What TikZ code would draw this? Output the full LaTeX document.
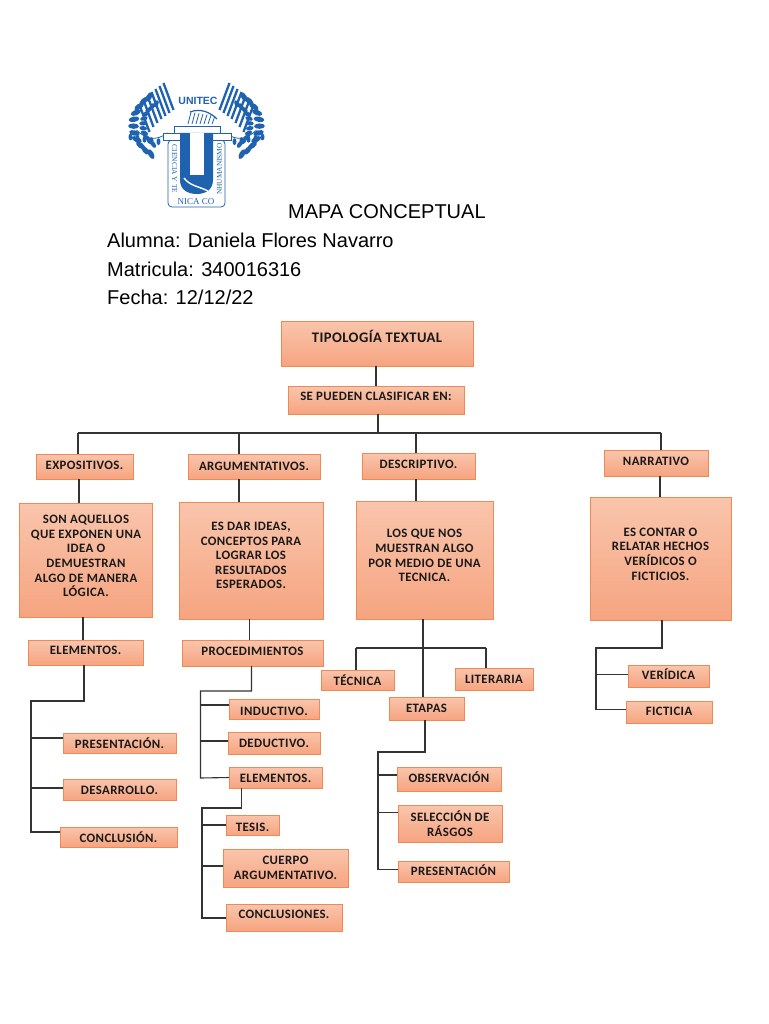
\documentclass[tikz,border=0pt]{standalone}
\usepackage{fontspec}
\setmainfont{Liberation Sans}
\newfontfamily\boxfont[LetterSpace=3]{Carlito}
\newfontfamily\logofont{Liberation Serif}
\usetikzlibrary{calc}
\definecolor{boxtop}{HTML}{F9C5AC}
\definecolor{boxbot}{HTML}{F6A480}
\definecolor{boxline}{HTML}{EE8A55}
\definecolor{logoblue}{HTML}{1F62B0}
\newcommand{\pad}[1]{\\[\dimexpr#1-14.6pt\relax]\mbox{}}
\begin{document}
\begin{tikzpicture}[
    x=1pt, y=-1pt,
    box/.style={draw=boxline, line width=1pt, top color=boxtop, bottom color=boxbot, align=center, inner sep=0pt, outer sep=0pt, text=black!90,
        font=\boxfont\bfseries\fontsize{12.8}{14.6}\selectfont},
    base/.style={text height=10pt+#1, text depth=10pt-#1},
    conn/.style={draw=black!80, line width=1.1pt},
    head/.style={anchor=west, inner sep=0pt, font=\fontsize{20}{22}\selectfont},
    feather/.style={fill=logoblue},
    logotxt/.style={inner sep=0pt, text=logoblue, font=\logofont\fontsize{7.4}{8}\selectfont}
]
\useasboundingbox (0,0) rectangle (768,1024);

% logo
\foreach \s in {1,-1} {
\begin{scope}[shift={(196.5,0)}, xscale=\s]
    \foreach \a in {118,130,...,238} {
        \fill[feather, shift={(-30,125)}] (\a:33) ellipse [x radius=2.7, y radius=5.4, rotate=\a-90];
        \fill[feather, shift={(-30,125)}] (\a+6:23.5) ellipse [x radius=2.2, y radius=3.8, rotate=\a-84];
    }
    \foreach \a in {-38,-45,...,-66} {
        \fill[feather] (\a,148+\a/6) ellipse [x radius=2, y radius=3.4];
    }
    \foreach \a/\b in {-33/83, -37/86, -41/89, -45/92, -49/96, -53/100, -57/105} {
        \draw[logoblue, line width=2.3pt] (\a+10,\b+27) -- (\a,\b);
    }
    \draw[logoblue, line width=.8pt] (-29,133) .. controls (-40,141) and (-50,140) .. (-60,130);
\end{scope}
}
\node[inner sep=0pt, text=logoblue, font=\bfseries\fontsize{10.5}{11}\selectfont] (unitec) at (198,101) {UNITEC};
\foreach \d in {0,4,...,24} {
    \draw[logoblue, line width=.8pt] (188+\d,124) -- (191+\d,112+\d/6);
}
\draw[logoblue, line width=1.2pt] (190,112) .. controls (200,108) and (210,112) .. (217,119);
\draw[logoblue, line width=.8pt, fill=white, rounded corners=4pt] (168,140) -- (225,140) -- (225,207) -- (168,207) -- cycle;
\draw[logoblue, line width=.8pt, fill=white] (163.5,133) rectangle (231.5,140);
\draw[logoblue, line width=.8pt, fill=white] (174,126) rectangle (220,133);
\fill[logoblue] (180,133) rectangle (213,180) .. controls (213,190) and (205,194) .. (197,194) .. controls (188,194) and (180,190) .. (180,180) -- cycle;
\fill[white] (190,133) rectangle (203.5,175);
\draw[white, line width=1.4pt] (184,178) .. controls (190,186) and (198,186) .. (208,191);
\node[logotxt, rotate=-90] (ciencia) at (174.5,169) {CIENCIA Y TE};
\node[logotxt, font=\logofont\fontsize{9}{10}\selectfont] (nica) at (196,201.5) {NICA CO};
\node[logotxt, rotate=90] (nhuman) at (219.5,169) {NHUMANISMO};

% encabezado
\node[head] (mapa) at (288,212) {MAPA CONCEPTUAL};
\node[head] (alumna) at (107,240) {Alumna: Daniela Flores Navarro};
\node[head] (matricula) at (107,269) {Matricula: 340016316};
\node[head] (fecha) at (107,297) {Fecha: 12/12/22};

% cajas
\node[box, base=-0.8, minimum width=192pt, minimum height=45pt, font=\boxfont\bfseries\fontsize{14.6}{16}\selectfont] (titulo) at (377,343.5) {TIPOLOGÍA TEXTUAL};
\node[box, base=0, minimum width=176pt, minimum height=28pt] (clasif) at (376,400) {SE PUEDEN CLASIFICAR EN:};

\node[box, base=3.3, minimum width=97pt, minimum height=25pt] (expo) at (84.5,466.5) {EXPOSITIVOS.};
\node[box, base=3.6, minimum width=132pt, minimum height=25pt] (argu) at (254,466.5) {ARGUMENTATIVOS.};
\node[box, base=2, minimum width=113pt, minimum height=26pt] (desc) at (418.5,466) {DESCRIPTIVO.};
\node[box, base=2, minimum width=104pt, minimum height=26pt] (narr) at (656,463) {NARRATIVO};

\node[box, minimum width=132.5pt, minimum height=114pt] (expotxt) at (86,560) {SON AQUELLOS\\QUE EXPONEN UNA\\IDEA O\\DEMUESTRAN\\ALGO DE MANERA\\LÓGICA.\pad{8pt}};
\node[box, minimum width=144pt, minimum height=117pt] (argutxt) at (251,560.5) {ES DAR IDEAS,\\CONCEPTOS PARA\\LOGRAR LOS\\RESULTADOS\\ESPERADOS.\pad{10pt}};
\node[box, minimum width=137pt, minimum height=118pt] (desctxt) at (424.5,560) {LOS QUE NOS\\MUESTRAN ALGO\\POR MEDIO DE UNA\\TECNICA.\pad{9pt}};
\node[box, minimum width=141pt, minimum height=123pt] (narrtxt) at (660.5,558.5) {ES CONTAR O\\RELATAR HECHOS\\VERÍDICOS O\\FICTICIOS.\pad{9pt}};

\node[box, base=2.3, minimum width=115pt, minimum height=25pt] (elem) at (85.5,652.5) {ELEMENTOS.};
\node[box, base=2, minimum width=141pt, minimum height=26pt] (proc) at (252.5,653) {PROCEDIMIENTOS};
\node[box, base=5, minimum width=113pt, minimum height=20pt] (pres) at (119.5,743) {PRESENTACIÓN.};
\node[box, base=4.9, minimum width=113pt, minimum height=21pt] (desa) at (119.5,789.5) {DESARROLLO.};
\node[box, base=5.4, minimum width=117pt, minimum height=20pt] (conc) at (118.5,837) {CONCLUSIÓN.};

\node[box, base=6.3, minimum width=90pt, minimum height=19pt] (indu) at (274,709.5) {INDUCTIVO.};
\node[box, base=4.4, minimum width=92pt, minimum height=22pt] (dedu) at (274,743) {DEDUCTIVO.};
\node[box, base=4.6, minimum width=93pt, minimum height=21pt] (elemb) at (275.5,777.5) {ELEMENTOS.};
\node[box, base=6.1, minimum width=53pt, minimum height=20pt] (tesis) at (252.5,825) {TESIS.};
\node[box, minimum width=125pt, minimum height=38pt] (cuerpo) at (285.5,868) {CUERPO\\ARGUMENTATIVO.};
\node[box, base=1.3, minimum width=116pt, minimum height=27pt] (concl) at (284,917.5) {CONCLUSIONES.};

\node[box, base=5.4, minimum width=73pt, minimum height=20pt] (tecn) at (357.5,680) {TÉCNICA};
\node[box, base=4.1, minimum width=78pt, minimum height=22pt] (lite) at (494,679) {LITERARIA};
\node[box, base=3.9, minimum width=75pt, minimum height=23pt] (etap) at (426.5,708.5) {ETAPAS};
\node[box, base=3.4, minimum width=104pt, minimum height=24pt] (obse) at (449,779) {OBSERVACIÓN};
\node[box, minimum width=104pt, minimum height=37pt] (sele) at (450,823.5) {SELECCIÓN DE\\RÁSGOS};
\node[box, base=4.3, minimum width=111pt, minimum height=21pt] (presb) at (453.5,871.5) {PRESENTACIÓN};
\node[box, base=3.8, minimum width=81pt, minimum height=22pt] (veri) at (668.5,676) {VERÍDICA};
\node[box, base=3.8, minimum width=86pt, minimum height=22pt] (fict) at (669,712) {FICTICIA};

% uniones
\coordinate (bus) at (378,433);
\coordinate (busexpo) at (78,433);
\coordinate (busargu) at (239,433);
\coordinate (busdesc) at (416,433);
\coordinate (busnarr) at (661,433);
\coordinate (elemj) at (84,701);
\coordinate (elemk) at (31,701);
\coordinate (procj) at (251.5,691);
\coordinate (prock) at (200.5,691);
\coordinate (elembj) at (241.5,808);
\coordinate (elembk) at (202,808);
\coordinate (descj) at (423,648);
\coordinate (descl) at (356,648);
\coordinate (descr) at (486,648);
\coordinate (etapj) at (425,752);
\coordinate (etapk) at (378,752);
\coordinate (narrj) at (662,648);
\coordinate (narrk) at (596,648);

% conectores
\draw[conn] (titulo.south -| 376,0) -- (clasif.north -| 376,0);
\draw[conn] (bus |- clasif.south) -- (bus);
\draw[conn] (busexpo) -- (busnarr);
\draw[conn] (busexpo) -- (busexpo |- expo.north);
\draw[conn] (busargu) -- (busargu |- argu.north);
\draw[conn] (busdesc) -- (busdesc |- desc.north);
\draw[conn] (busnarr) -- (busnarr |- narr.north);

\draw[conn] (expotxt.north -| 79,0) -- (expo.south -| 79,0);
\draw[conn] (argutxt.north -| busargu) -- (argu.south -| busargu);
\draw[conn] (desctxt.north -| busdesc) -- (desc.south -| busdesc);
\draw[conn] (narrtxt.north -| 660,0) -- (narr.south -| 660,0);
\draw[conn] (expotxt.south -| 83,0) -- (elem.north -| 83,0);
\draw[conn] (argutxt.south -| 249.5,0) -- (proc.north -| 249.5,0);

\draw[conn] (elem.south -| elemj) -- (elemj) -- (elemk) -- (elemk |- 0,832) -- (conc.west |- 0,832);
\draw[conn] (elemk |- 0,738) -- (pres.west |- 0,738);
\draw[conn] (elemk |- 0,788) -- (desa.west |- 0,788);

\draw[conn] (proc.south -| procj) -- (procj) -- (prock) -- (prock |- 0,778) -- (elemb.west);
\draw[conn] (prock |- 0,705) -- (indu.west |- 0,705);
\draw[conn] (prock |- 0,741) -- (dedu.west |- 0,741);

\draw[conn] (elemb.south -| elembj) -- (elembj) -- (elembk) -- (elembk |- 0,918) -- (concl.west |- 0,918);
\draw[conn] (elembk |- 0,825) -- (tesis.west);
\draw[conn] (elembk |- 0,866) -- (cuerpo.west |- 0,866);

\draw[conn] (desctxt.south -| descj) -- (descj);
\draw[conn] (descl) -- (descr);
\draw[conn] (descl) -- (descl |- tecn.north);
\draw[conn] (descr) -- (descr |- lite.north);
\draw[conn] (descj) -- (descj |- etap.north);

\draw[conn] (etap.south -| etapj) -- (etapj) -- (etapk) -- (etapk |- 0,869.5) -- (presb.west |- 0,869.5);
\draw[conn] (etapk |- 0,775) -- (obse.west |- 0,775);
\draw[conn] (etapk |- 0,812.5) -- (sele.west |- 0,812.5);

\draw[conn] (narrtxt.south -| narrj) -- (narrj) -- (narrk) -- (narrk |- 0,709.5) -- (fict.west |- 0,709.5);
\draw[conn] (narrk |- 0,674.5) -- (veri.west |- 0,674.5);
\end{tikzpicture}
\end{document}
